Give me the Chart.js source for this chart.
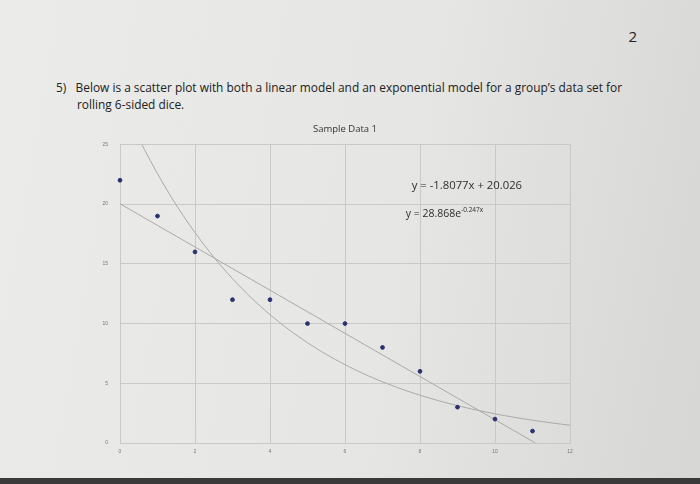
<!DOCTYPE html>
<html>
<head>
<meta charset="utf-8">
<script src="https://cdn.jsdelivr.net/npm/chart.js@4/dist/chart.umd.min.js"></script>
<style>
  html, body { margin: 0; padding: 0; }
  body {
    width: 700px; height: 484px; overflow: hidden; position: relative;
    background: linear-gradient(100deg, #ebebe9 0%, #e6e6e4 55%, #d6d6d4 100%);
    font-family: "Open Sans", Lato, sans-serif; color: #222;
  }
  #page { position: absolute; right: 63px; top: 26px; font-size: 15px; }
  #q { position: absolute; left: 56px; top: 79px; font-size: 11.9px; line-height: 16.5px; }
  #q .ind { padding-left: 21px; }
  #box { position: absolute; left: 89px; top: 117px; width: 500px; height: 348px; }
  #bottomEdge { position: absolute; left: 0; top: 478px; width: 700px; height: 6px; background: #3a3a3a; }
</style>
</head>
<body>
<div id="page">2</div>
<div id="q">5)&nbsp;&nbsp; Below is a scatter plot with both a linear model and an exponential model for a group’s data set for<br><span class="ind">rolling 6-sided dice.</span></div>
<div id="box"><canvas id="myChart" width="500" height="348"></canvas></div>
<div id="bottomEdge"></div>
<script>
// data
var xValues = [0, 1, 2, 3, 4, 5, 6, 7, 8, 9, 10, 11];
var yValues = [22, 19, 16, 12, 12, 10, 10, 8, 6, 3, 2, 1];
var xTicks = [0, 2, 4, 6, 8, 10, 12];
var yTicks = [0, 5, 10, 15, 20, 25];

// trendline coefficients shown on the chart
var linSlope = -1.8077, linIntercept = 20.026;
var expA = 28.868, expK = -0.247;

var chartTitle = "Sample Data 1";
var linLabel = "y = -1.8077x + 20.026";
var expLabelBase = "y = 28.868e";
var expLabelPow = "-0.247x";

var myChart;

function linPoints() {
  var pts = [];
  var xEnd = -linIntercept / linSlope;
  for (var x = 0; x <= xEnd; x += 0.25) pts.push({ x: x, y: linIntercept + linSlope * x });
  pts.push({ x: xEnd, y: 0 });
  return pts;
}

function expPoints() {
  var pts = [];
  var xStart = Math.log(25 / expA) / expK;
  pts.push({ x: xStart, y: 25 });
  for (var x = 0.75; x <= 12.001; x += 0.25) pts.push({ x: x, y: expA * Math.exp(expK * x) });
  return pts;
}

// equation labels, placed through the scales
var equationPlugin = {
  id: "equations",
  afterDatasetsDraw: function (chart) {
    var ctx = chart.ctx;
    var xs = chart.scales.x, ys = chart.scales.y;
    ctx.save();
    ctx.fillStyle = "#2e2e2e";
    ctx.textBaseline = "middle";
    ctx.font = "11.3px 'Open Sans', sans-serif";
    ctx.textAlign = "center";
    ctx.fillText(linLabel, xs.getPixelForValue(9.25), ys.getPixelForValue(21.55));
    ctx.textAlign = "left";
    ctx.font = "10.5px 'Open Sans', sans-serif";
    var ex = xs.getPixelForValue(7.62), ey = ys.getPixelForValue(19.2);
    ctx.fillText(expLabelBase, ex, ey);
    var w = ctx.measureText(expLabelBase).width;
    ctx.font = "6.5px 'Open Sans', sans-serif";
    ctx.fillText(expLabelPow, ex + w, ey - 3.5);
    ctx.restore();
  }
};

function buildChart() {
  var ctx = document.getElementById("myChart").getContext("2d");
  myChart = new Chart(ctx, {
    type: "scatter",
    data: {
      datasets: [
        {
          label: "data",
          data: xValues.map(function (x, i) { return { x: x, y: yValues[i] }; }),
          backgroundColor: "#2c3170",
          borderColor: "#2c3170",
          pointRadius: 1.9,
          clip: false,
          order: 0
        },
        {
          label: "linear",
          type: "line",
          data: linPoints(),
          borderColor: "#a9a9a9",
          borderWidth: 1,
          pointRadius: 0,
          fill: false,
          order: 1
        },
        {
          label: "exponential",
          type: "line",
          data: expPoints(),
          borderColor: "#a9a9a9",
          borderWidth: 1,
          pointRadius: 0,
          tension: 0.3,
          fill: false,
          order: 1
        }
      ]
    },
    options: {
      responsive: false,
      animation: false,
      layout: { padding: { left: 0, right: 19, top: 0, bottom: 6 } },
      plugins: {
        legend: { display: false },
        tooltip: { enabled: false },
        title: {
          display: true,
          fullSize: false,
          text: chartTitle,
          color: "#333",
          font: { size: 9.5, family: "'Open Sans', sans-serif", weight: "normal" },
          padding: { top: 7, bottom: 9 }
        }
      },
      scales: {
        x: {
          type: "linear", min: 0, max: 12,
          afterBuildTicks: function (s) { s.ticks = xTicks.map(function (v) { return { value: v }; }); },
          afterFit: function (s) { s.height = 16; },
          grid: { color: "#c9c9c7", drawTicks: false },
          border: { color: "#c9c9c7" },
          ticks: { color: "#777", font: { size: 5 }, padding: 6 }
        },
        y: {
          type: "linear", min: 0, max: 25,
          afterBuildTicks: function (s) { s.ticks = yTicks.map(function (v) { return { value: v }; }); },
          afterFit: function (s) { s.width = 31; },
          grid: { color: "#c9c9c7", drawTicks: false },
          border: { color: "#c9c9c7" },
          ticks: { color: "#777", font: { size: 5 }, padding: 12 }
        }
      }
    },
    plugins: [equationPlugin]
  });
}

buildChart();
</script>
</body>
</html>
